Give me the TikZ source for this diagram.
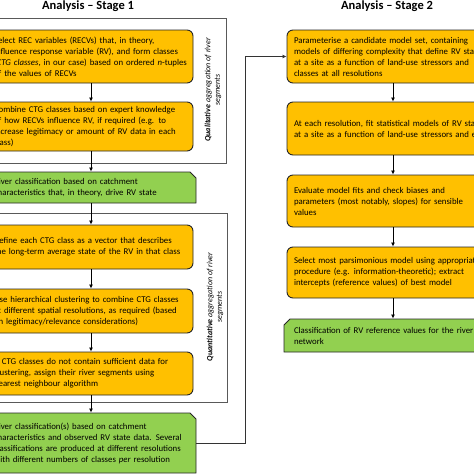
\documentclass[tikz,border=0pt]{standalone}
\usepackage{fontspec}
\setmainfont{Carlito}
\usetikzlibrary{arrows.meta,shapes.misc}
\definecolor{amber}{HTML}{FFC000}
\definecolor{leaf}{HTML}{92D050}
\begin{document}
\begin{tikzpicture}[x=1pt,y=-1pt,>={Latex[length=4pt,width=4pt]},
  box/.style={draw=black!85,fill=amber,rounded corners=6pt,line width=0.9pt,align=left,
    font=\fontsize{8.8}{11}\selectfont,inner xsep=5pt,inner ysep=0pt},
  lbox/.style={box,text width=194pt},
  rbox/.style={box,text width=198pt,inner xsep=7pt},
  res/.style={chamfered rectangle,chamfered rectangle corners={north west,north east},
    chamfered rectangle xsep=3pt,chamfered rectangle ysep=3pt,rounded corners=0pt,fill=leaf},
  frame/.style={draw=black!65,line width=0.7pt},
  tag/.style={rotate=90,align=center,font=\fontsize{8}{9.5}\selectfont\itshape},
  title/.style={font=\fontsize{12.5}{14}\selectfont\bfseries}]
\useasboundingbox (0,0) rectangle (474,474);
\clip (0,0) rectangle (474,474);
\node[title] (t1) at (88,6) {Analysis -- Stage 1};
\node[title] (t2) at (387,6) {Analysis -- Stage 2};
\draw[frame] (-20,18) rectangle (226,163);
\draw[frame] (-20,213) rectangle (227,402);
\node[tag] (qual) at (213,90) {\textbf{Qualitative} aggregation of river\\segments};
\node[tag] (quant) at (215,307) {\textbf{Quantitative} aggregation of river\\segments};
\node[lbox,minimum height=53pt] (s1) at (91,56.5) {Select REC variables (RECVs) that, in theory,\\influence response variable (RV), and form classes\\(\textit{CTG classes}, in our case) based on ordered \textit{n}-tuples\\of the values of RECVs};
\node[lbox,minimum height=49pt] (s2) at (91,126.5) {Combine CTG classes based on expert knowledge\\of how RECVs influence RV, if required (e.g. to\\increase legitimacy or amount of RV data in each\\class)};
\node[lbox,res,minimum height=31pt] (g1) at (91,187.5) {River classification based on catchment\\characteristics that, in theory, drive RV state};
\node[lbox,minimum height=44pt] (s3) at (91,247) {Define each CTG class as a vector that describes\\the long-term average state of the RV in that class};
\node[lbox,minimum height=44pt] (s4) at (91,311) {Use hierarchical clustering to combine CTG classes\\at different spatial resolutions, as required (based\\on legitimacy/relevance considerations)};
\node[lbox,minimum height=43pt] (s5) at (91,373.5) {If CTG classes do not contain sufficient data for\\clustering, assign their river segments using\\nearest neighbour algorithm};
\node[lbox,res,minimum height=60pt] (g2) at (91,443) {River classification(s) based on catchment\\characteristics and observed RV state data. Several\\classifications are produced at different resolutions\\with different numbers of classes \textit{per} resolution};
\node[rbox,minimum height=53pt] (r1) at (393,56.5) {Parameterise a candidate model set, containing\\models of differing complexity that define RV state\\at a site as a function of land-use stressors and\\classes at all resolutions};
\node[rbox,minimum height=53pt] (r2) at (393,128.5) {At each resolution, fit statistical models of RV state\\at a site as a function of land-use stressors and each};
\node[rbox,minimum height=52pt] (r3) at (393,201) {Evaluate model fits and check biases and\\parameters (most notably, slopes) for sensible\\values};
\node[rbox,minimum height=51pt] (r4) at (393,272.5) {Select most parsimonious model using appropriate\\procedure (e.g. information-theoretic); extract\\intercepts (reference values) of best model};
\node[rbox,res,minimum height=33pt] (g3) at (393,335.5) {Classification of RV reference values for the river\\network};
\foreach \a/\b in {s1/s2,s2/g1,g1/s3,s3/s4,s4/s5,s5/g2,r1/r2,r2/r3,r3/r4,r4/g3}
  \draw[->,line width=0.8pt] (\a.south) -- (\b.north);
\draw[->,line width=0.8pt,black!80] (g2.east) -- ([xshift=49pt]g2.east) |- (r1.west);
\end{tikzpicture}
\end{document}
